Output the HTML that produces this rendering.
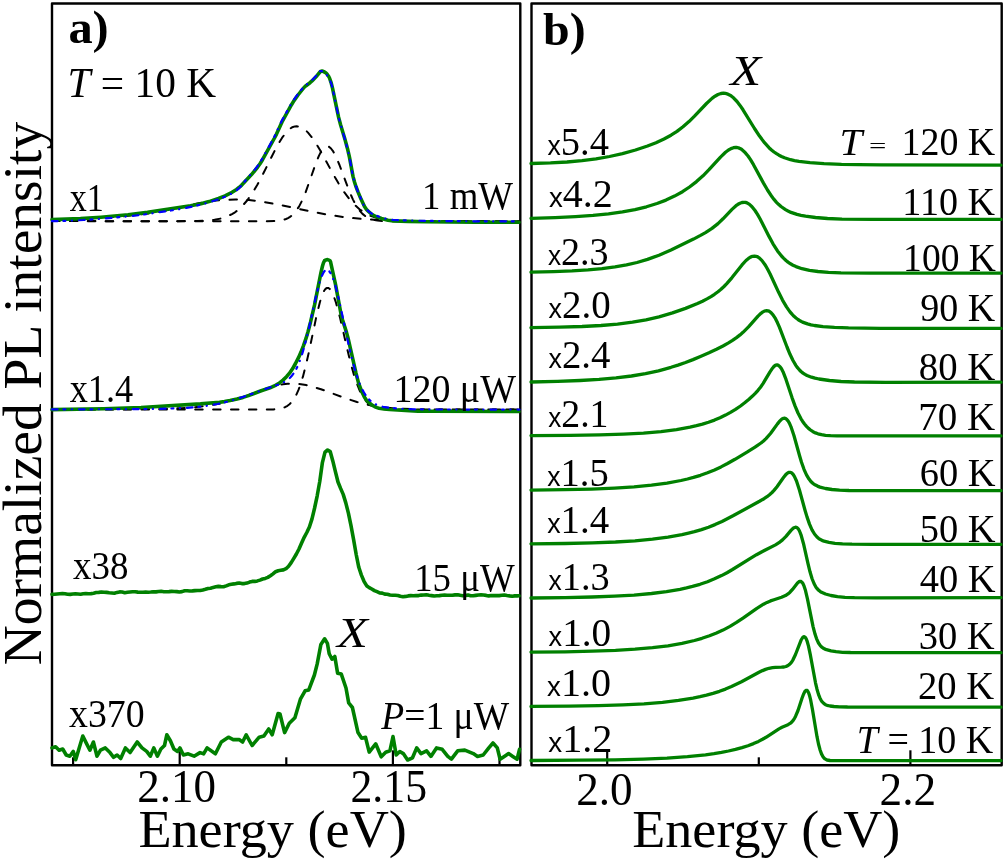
<!DOCTYPE html>
<html><head><meta charset="utf-8"><title>PL spectra</title>
<style>
html,body{margin:0;padding:0;background:#fff;}
body{width:1005px;height:861px;overflow:hidden;}
svg{display:block;}
text{font-family:'Liberation Serif','Times New Roman',serif;fill:#000;}
</style></head><body>
<svg width="1005" height="861" viewBox="0 0 1005 861">
<rect width="1005" height="861" fill="#fff"/>
<rect x="52" y="3.5" width="468.3" height="761.8" fill="none" stroke="#000" stroke-width="2.4" stroke-linejoin="round"/>
<rect x="531.5" y="3.5" width="470.2" height="761.8" fill="none" stroke="#000" stroke-width="2.4" stroke-linejoin="round"/>
<line x1="179.7" y1="765.3" x2="179.7" y2="750.3" stroke="#000" stroke-width="2.2"/>
<line x1="392.9" y1="765.3" x2="392.9" y2="750.3" stroke="#000" stroke-width="2.2"/>
<line x1="73.1" y1="765.3" x2="73.1" y2="757.3" stroke="#000" stroke-width="2.2"/>
<line x1="286.3" y1="765.3" x2="286.3" y2="757.3" stroke="#000" stroke-width="2.2"/>
<line x1="499.5" y1="765.3" x2="499.5" y2="757.3" stroke="#000" stroke-width="2.2"/>
<line x1="607.2" y1="765.3" x2="607.2" y2="750.3" stroke="#000" stroke-width="2.2"/>
<line x1="910.4" y1="765.3" x2="910.4" y2="750.3" stroke="#000" stroke-width="2.2"/>
<line x1="758.8" y1="765.3" x2="758.8" y2="757.3" stroke="#000" stroke-width="2.2"/>
<g fill="none" stroke-linejoin="round" stroke-linecap="round">
<path d="M52.0,219.4 L78.0,218.7 L100.0,217.8 L119.0,216.6 L135.5,215.1 L150.0,213.3 L163.5,211.0 L175.5,208.5 L198.5,203.3 L209.5,201.2 L216.0,200.4 L222.0,199.9 L235.5,199.5 L242.0,199.7 L249.0,200.1 L256.0,200.8 L263.0,201.8 L277.5,204.4 L310.5,211.4 L327.0,214.6 L345.5,217.3 L364.5,219.2 L386.0,220.4 L412.0,221.1 L446.0,221.3 L519.5,221.4" stroke="#000" stroke-width="2.0" stroke-dasharray="7.5 10.4"/>
<path d="M52.0,221.1 L175.0,221.2 L197.5,221.0 L207.0,220.6 L214.5,219.8 L221.0,218.5 L226.5,216.8 L232.0,214.1 L235.0,212.3 L237.5,210.4 L242.5,205.8 L247.5,200.0 L252.5,192.9 L257.5,184.5 L262.5,175.1 L275.5,149.1 L279.0,142.8 L282.0,137.9 L286.0,132.6 L289.5,129.1 L291.5,127.7 L293.0,127.0 L295.0,126.4 L296.5,126.3 L298.0,126.4 L300.0,126.9 L302.0,127.7 L304.0,129.0 L306.0,130.6 L308.0,132.6 L312.5,138.1 L316.0,143.3 L320.0,150.0 L333.0,173.8 L338.5,183.3 L344.0,191.9 L349.5,199.3 L354.5,204.8 L359.5,209.2 L365.0,213.0 L370.5,215.8 L376.5,217.9 L383.0,219.4 L391.0,220.4 L400.5,221.0 L423.5,221.3 L519.5,221.4" stroke="#000" stroke-width="2.0" stroke-dasharray="7.5 10.4"/>
<path d="M52.0,221.1 L265.0,221.2 L276.5,220.9 L280.5,220.4 L283.5,219.8 L286.0,219.0 L288.0,218.1 L290.0,216.9 L292.0,215.4 L295.5,211.7 L299.0,206.6 L302.0,200.8 L305.5,192.6 L315.5,164.3 L319.0,155.6 L321.0,151.7 L323.0,148.7 L325.0,146.9 L326.0,146.4 L327.0,146.3 L328.0,146.4 L329.0,146.8 L331.0,148.5 L333.0,151.1 L335.5,155.6 L339.5,165.0 L349.5,191.7 L353.0,199.6 L356.0,205.3 L359.0,209.9 L362.5,213.9 L366.0,216.7 L370.0,218.8 L373.5,219.9 L377.5,220.6 L382.0,221.0 L388.5,221.2 L519.5,221.4" stroke="#000" stroke-width="2.0" stroke-dasharray="7.5 10.4"/>
<path d="M52.0,409.4 L123.5,409.2 L158.5,408.9 L181.5,408.2 L190.5,407.6 L199.0,406.8 L212.5,404.9 L219.0,403.7 L225.5,402.2 L232.5,400.3 L240.0,398.0 L264.5,389.3 L273.5,386.5 L278.5,385.2 L283.0,384.3 L287.5,383.8 L292.0,383.6 L296.5,383.8 L301.0,384.2 L306.0,385.0 L311.0,386.2 L321.0,389.2 L345.0,398.1 L357.0,402.0 L364.0,403.8 L370.5,405.3 L377.5,406.5 L385.0,407.5 L392.5,408.2 L401.0,408.8 L421.0,409.4 L447.5,409.6 L519.5,409.6" stroke="#000" stroke-width="2.0" stroke-dasharray="7.5 10.4"/>
<path d="M52.0,409.6 L266.5,409.6 L273.5,409.4 L278.0,409.0 L282.0,408.2 L285.0,407.2 L287.5,405.8 L289.5,404.3 L291.5,402.2 L293.0,400.3 L295.0,397.2 L296.5,394.4 L298.5,389.9 L300.0,385.9 L303.0,376.4 L306.0,364.8 L309.0,351.6 L316.5,315.9 L320.0,301.8 L322.0,295.6 L324.0,291.1 L325.0,289.5 L326.0,288.5 L327.0,288.0 L327.5,287.9 L328.5,288.1 L329.5,288.8 L330.5,289.8 L331.5,291.3 L333.5,295.5 L336.0,302.7 L340.0,317.6 L347.5,350.2 L350.5,362.5 L354.0,375.0 L357.0,384.0 L360.0,391.3 L361.5,394.3 L363.5,397.7 L365.0,399.8 L367.0,402.2 L369.0,404.0 L371.0,405.5 L374.5,407.3 L378.5,408.5 L383.0,409.1 L389.5,409.5 L519.5,409.6" stroke="#000" stroke-width="2.0" stroke-dasharray="7.5 10.4"/>
<path d="M52.0,219.6 L80.5,218.6 L101.0,217.2 L128.0,214.8 L147.5,212.4 L190.5,205.7 L201.0,203.8 L209.0,201.6 L218.5,198.5 L225.0,195.9 L230.5,193.2 L236.5,189.4 L239.0,187.5 L241.5,185.3 L251.5,174.6 L257.5,167.3 L260.0,163.8 L262.5,159.7 L274.5,138.0 L276.5,134.1 L282.0,121.9 L291.5,104.7 L294.0,100.6 L298.0,95.0 L304.0,87.5 L306.0,85.7 L310.0,82.7 L312.0,80.9 L317.0,75.7 L320.0,72.0 L321.0,71.2 L322.0,71.0 L323.0,71.3 L324.5,72.0 L326.0,73.0 L327.0,74.0 L328.5,76.2 L329.5,78.0 L331.0,82.3 L332.5,88.1 L338.5,116.9 L340.5,124.5 L345.0,139.6 L347.5,148.7 L349.5,157.4 L353.0,176.4 L354.5,182.0 L356.0,186.7 L358.0,191.9 L361.0,199.1 L364.5,206.6 L366.5,209.5 L368.5,211.5 L371.0,213.7 L373.0,215.0 L375.0,216.1 L381.5,218.5 L388.0,220.2 L393.5,220.9 L408.0,221.4 L426.0,221.8 L475.0,222.2 L519.0,222.3" stroke="#008000" stroke-width="3.6" />
<path d="M52.0,409.6 L103.5,408.7 L141.0,407.5 L200.5,403.9 L219.5,402.3 L224.5,401.6 L230.0,400.6 L237.0,399.0 L243.0,397.4 L248.5,395.6 L260.5,391.0 L270.0,387.8 L276.0,385.1 L279.5,382.9 L283.0,380.1 L286.5,376.7 L289.5,373.2 L292.5,368.8 L295.5,363.5 L298.5,357.7 L301.0,352.1 L303.5,345.6 L306.0,338.4 L308.0,331.7 L310.5,322.2 L314.5,305.2 L321.0,272.4 L322.5,266.0 L323.5,262.8 L324.5,260.7 L326.0,259.9 L327.5,259.6 L329.0,260.1 L330.0,260.8 L330.5,261.6 L335.5,284.3 L341.0,314.0 L342.5,319.8 L346.5,332.4 L348.0,337.9 L356.0,373.2 L358.5,382.9 L361.5,390.9 L364.5,397.3 L366.5,400.3 L370.0,403.5 L372.5,405.4 L374.5,406.5 L377.0,407.6 L379.0,408.2 L384.0,408.9 L389.5,409.5 L409.5,410.8 L418.0,411.2 L431.5,411.3 L519.0,411.5" stroke="#008000" stroke-width="3.6" />
<path d="M52.0,594.4 L54.6,594.3 L57.2,594.0 L59.8,593.7 L62.4,593.5 L65.0,593.7 L67.6,594.2 L70.2,594.4 L72.8,594.0 L75.4,593.8 L78.0,594.0 L80.6,594.2 L83.2,593.7 L85.8,593.5 L88.4,593.7 L91.0,593.6 L93.6,593.2 L96.2,592.5 L98.8,592.4 L101.4,592.0 L104.0,592.3 L106.6,592.4 L109.2,592.8 L111.8,593.0 L114.4,593.2 L117.0,592.4 L119.6,591.9 L122.2,592.0 L124.8,592.7 L127.4,592.3 L130.0,592.0 L132.6,591.7 L135.2,591.8 L137.8,592.1 L140.4,592.3 L143.0,592.2 L145.6,592.1 L148.2,592.2 L150.8,592.0 L153.4,591.7 L156.0,591.9 L158.6,591.5 L161.2,591.3 L163.8,591.7 L166.4,591.7 L169.0,591.6 L171.6,591.4 L174.2,591.5 L176.8,591.6 L179.4,592.0 L182.0,591.6 L184.6,590.8 L187.2,590.8 L189.8,591.0 L192.4,590.9 L195.0,590.6 L197.6,590.5 L200.2,590.5 L202.8,590.0 L205.4,589.3 L208.0,588.5 L210.6,588.2 L213.2,587.4 L215.8,586.8 L218.4,586.4 L221.0,586.6 L223.6,586.7 L226.2,585.9 L228.8,584.8 L231.4,584.3 L234.0,583.9 L236.6,583.4 L239.2,583.0 L241.8,583.6 L244.4,583.6 L247.0,583.1 L249.6,582.1 L252.2,581.4 L254.8,581.4 L257.4,580.9 L260.0,580.1 L262.6,579.0 L265.2,578.4 L267.8,577.4 L270.4,575.8 L273.0,573.9 L275.6,571.7 L278.2,570.7 L280.8,570.3 L283.4,569.9 L286.0,568.7 L288.6,566.2 L291.2,562.6 L293.8,558.4 L296.4,554.0 L299.0,549.0 L301.6,543.1 L304.2,537.3 L306.8,532.5 L309.4,527.0 L312.0,518.9 L314.6,508.0 L317.2,495.8 L319.8,481.3 L322.4,462.6 L325.0,452.1 L327.6,450.0 L330.2,451.6 L332.8,460.9 L335.4,471.6 L338.0,482.0 L340.6,488.4 L343.2,494.4 L345.8,502.9 L348.4,513.1 L351.0,525.7 L353.6,539.6 L356.2,554.5 L358.8,567.3 L361.4,575.1 L364.0,581.3 L366.6,585.7 L369.2,587.6 L371.8,589.0 L374.4,590.6 L377.0,591.7 L379.6,592.9 L382.2,593.1 L384.8,594.1 L387.4,594.2 L390.0,595.0 L392.6,595.3 L395.2,595.3 L397.8,595.5 L400.4,596.3 L403.0,596.8 L405.6,596.4 L408.2,595.9 L410.8,595.6 L413.4,595.8 L416.0,595.6 L418.6,595.6 L421.2,595.1 L423.8,595.0 L426.4,594.7 L429.0,595.2 L431.6,595.6 L434.2,596.0 L436.8,595.8 L439.4,595.6 L442.0,595.2 L444.6,595.1 L447.2,595.2 L449.8,595.3 L452.4,595.3 L455.0,594.9 L457.6,594.7 L460.2,595.3 L462.8,595.7 L465.4,595.5 L468.0,595.1 L470.6,595.8 L473.2,595.8 L475.8,595.4 L478.4,595.0 L481.0,594.9 L483.6,595.0 L486.2,595.4 L488.8,595.9 L491.4,595.5 L494.0,595.6 L496.6,595.5 L499.2,595.6 L501.8,595.3 L504.4,595.0 L507.0,595.5 L509.6,595.9 L512.2,596.2 L514.8,595.9 L517.4,595.9 L519.0,595.8" stroke="#008000" stroke-width="3.6" />
<path d="M52.0,747.9 L55.6,746.7 L59.1,750.2 L62.7,749.0 L66.2,755.0 L69.8,756.2 L73.3,751.4 L75.7,759.7 L79.2,747.9 L82.8,736.0 L86.3,743.1 L89.9,750.2 L93.4,742.0 L97.0,756.2 L100.5,750.2 L105.3,747.9 L110.0,752.6 L113.6,757.3 L117.1,755.0 L120.7,758.5 L125.4,747.9 L130.1,752.6 L137.2,742.0 L142.0,747.9 L146.7,751.4 L150.3,756.2 L153.8,747.9 L157.4,756.2 L160.9,749.0 L164.5,745.5 L166.8,734.8 L170.4,740.8 L173.9,749.0 L177.5,751.4 L179.9,747.9 L183.4,755.0 L188.2,753.8 L194.1,756.2 L200.0,752.6 L203.6,753.8 L207.1,747.9 L215.4,753.8 L221.3,742.0 L228.4,737.2 L233.2,739.6 L239.1,739.6 L242.6,742.0 L246.2,734.8 L252.1,745.5 L259.2,737.2 L263.9,736.0 L268.7,728.9 L272.2,734.8 L278.1,713.5 L280.0,714.0 L284.6,732.6 L289.3,723.3 L294.9,717.7 L300.4,699.2 L305.1,690.8 L308.8,689.9 L314.4,675.0 L317.2,663.9 L320.9,644.4 L324.6,638.8 L327.4,643.4 L329.2,653.7 L332.0,659.2 L334.8,656.4 L337.6,673.2 L341.3,674.1 L346.0,688.0 L348.7,702.9 L352.4,707.5 L358.0,732.6 L361.7,738.2 L365.5,737.3 L369.2,752.1 L375.7,743.8 L381.2,756.8 L385.7,752.2 L389.9,750.8 L393.0,736.6 L396.2,755.0 L399.8,751.5 L403.3,753.6 L407.6,760.0 L412.5,757.8 L416.7,747.9 L421.0,753.6 L426.6,750.8 L430.9,756.4 L436.5,747.9 L442.2,749.3 L447.8,756.4 L451.4,759.2 L457.7,750.8 L464.8,750.1 L473.3,753.6 L477.5,756.4 L483.2,755.0 L488.8,747.9 L493.0,743.0 L497.3,747.9 L500.1,759.2 L504.3,756.4 L508.6,753.6 L512.8,756.4 L517.1,759.2 L519.5,749.3" stroke="#008000" stroke-width="3.6" />
<path d="M52.0,221.2 L66.5,220.8 L84.0,220.0 L101.5,218.8 L116.5,217.5 L141.5,214.9 L175.0,209.9 L183.5,208.5 L191.0,206.9 L200.5,204.7 L209.0,202.4 L215.5,200.3 L221.5,198.2 L226.5,196.0 L231.5,193.5 L236.5,190.3 L240.0,187.2 L247.5,178.1 L255.0,169.4 L259.0,164.1 L262.5,158.2 L274.5,136.5 L280.0,124.4 L282.0,120.4 L291.5,103.3 L295.5,97.3 L301.0,90.1 L303.5,87.2 L305.0,85.8 L310.5,81.6 L316.0,76.0 L319.0,72.2 L320.0,71.3 L321.0,71.0 L322.0,71.2 L323.5,71.9 L325.0,72.9 L326.0,73.8 L327.5,75.9 L329.5,79.3 L331.5,84.1 L332.5,88.0 L339.0,119.0 L345.5,141.3 L348.5,152.8 L350.0,160.0 L352.5,174.1 L354.5,182.0 L357.5,190.7 L363.5,204.7 L365.0,207.5 L366.0,208.9 L369.5,212.1 L371.5,213.4 L374.0,214.7 L381.0,217.4 L387.5,219.2 L393.5,220.0 L408.0,220.5 L426.0,220.9 L475.0,221.3 L519.0,221.4" stroke="#0000ff" stroke-width="2.2" stroke-dasharray="5.6 5.8 2 6.4 0.2 7"/>
<path d="M52.0,409.4 L125.0,409.2 L160.0,408.9 L183.0,408.1 L192.5,407.4 L201.0,406.6 L209.5,405.4 L217.5,404.0 L225.0,402.3 L233.0,400.1 L246.5,395.8 L264.5,389.3 L278.0,384.7 L283.5,382.4 L286.0,381.0 L288.5,379.2 L290.5,377.3 L292.5,375.0 L294.5,372.1 L296.0,369.5 L298.0,365.4 L299.5,361.7 L302.5,353.0 L306.0,340.3 L309.0,327.7 L316.0,296.2 L319.5,282.8 L321.5,276.8 L323.5,272.5 L324.5,271.1 L325.5,270.2 L326.5,269.8 L327.0,269.7 L328.0,270.1 L329.0,270.9 L331.0,273.8 L333.0,278.4 L335.5,286.1 L339.5,302.1 L347.5,339.6 L351.0,354.9 L354.5,368.3 L357.5,377.9 L360.5,385.7 L364.0,392.7 L366.0,395.8 L368.0,398.3 L370.0,400.4 L372.0,402.0 L374.5,403.7 L377.0,404.9 L380.0,406.0 L383.0,406.8 L391.0,408.0 L402.0,408.8 L415.5,409.3 L433.0,409.5 L519.5,409.6" stroke="#0000ff" stroke-width="2.2" stroke-dasharray="5.6 5.8 2 6.4 0.2 7"/>
<path d="M531.0,163.5 L550.5,162.9 L567.0,162.0 L582.0,160.6 L596.0,158.9 L609.5,156.5 L622.5,153.6 L635.5,150.0 L647.5,146.0 L656.0,142.7 L664.0,139.0 L671.0,135.2 L677.0,131.4 L683.0,126.8 L689.0,121.6 L694.5,116.1 L706.5,103.5 L712.0,98.4 L715.0,96.2 L718.0,94.5 L721.0,93.5 L723.5,93.2 L725.5,93.4 L727.0,93.8 L730.0,95.2 L731.5,96.2 L733.5,97.8 L737.0,101.5 L740.0,105.4 L743.0,109.8 L754.5,128.5 L759.5,136.1 L764.5,142.7 L769.0,147.7 L771.5,150.0 L774.0,152.0 L776.5,153.7 L779.0,155.2 L781.5,156.5 L784.5,157.8 L790.5,159.7 L794.5,160.6 L799.0,161.4 L810.0,162.7 L824.0,163.7 L841.5,164.4 L858.5,164.7 L881.0,164.9 L1001.0,165.2" stroke="#008000" stroke-width="3.3" />
<path d="M531.0,218.3 L555.0,217.6 L575.5,216.6 L593.0,215.4 L608.5,213.8 L622.5,211.9 L635.0,209.6 L646.5,206.8 L657.0,203.5 L666.0,200.1 L674.5,196.1 L682.5,191.7 L689.5,187.0 L696.5,181.6 L703.0,175.8 L709.0,169.7 L720.5,157.1 L725.5,152.3 L728.5,150.0 L731.0,148.6 L733.5,147.7 L735.5,147.4 L737.0,147.5 L738.5,147.9 L740.0,148.5 L741.5,149.3 L744.5,151.9 L748.0,156.0 L750.5,159.7 L753.5,164.7 L763.5,183.1 L767.5,190.0 L772.0,196.8 L774.0,199.4 L776.5,202.3 L778.5,204.3 L781.0,206.5 L785.5,209.6 L788.0,211.0 L791.0,212.4 L797.0,214.4 L801.0,215.3 L805.5,216.2 L815.5,217.5 L827.5,218.5 L842.0,219.1 L874.5,219.4 L1001.0,219.4" stroke="#008000" stroke-width="3.3" />
<path d="M531.0,272.1 L553.5,271.6 L572.0,270.9 L588.0,269.9 L602.0,268.6 L615.0,266.9 L626.5,264.9 L637.0,262.5 L647.5,259.4 L659.0,255.2 L671.0,250.0 L693.5,239.1 L700.5,235.4 L705.5,232.6 L712.0,228.4 L718.0,223.6 L723.0,218.8 L732.0,209.4 L736.0,205.7 L738.0,204.3 L740.0,203.2 L742.0,202.5 L744.0,202.3 L745.5,202.4 L747.0,202.9 L749.5,204.4 L752.0,206.7 L755.0,210.5 L757.5,214.4 L760.0,218.8 L769.0,236.4 L773.0,243.8 L777.5,250.9 L781.5,256.0 L783.5,258.1 L786.0,260.5 L788.0,262.1 L790.5,263.8 L793.0,265.2 L796.0,266.6 L802.0,268.7 L809.5,270.4 L818.0,271.5 L828.5,272.3 L841.0,272.8 L870.0,273.1 L1001.0,273.2" stroke="#008000" stroke-width="3.3" />
<path d="M531.0,327.6 L559.5,327.1 L582.0,326.5 L601.0,325.5 L617.5,324.1 L632.5,322.2 L646.0,319.8 L659.0,316.8 L672.5,312.9 L685.5,308.4 L697.5,303.5 L702.5,301.2 L707.0,298.9 L711.0,296.6 L714.5,294.3 L718.0,291.7 L721.0,289.3 L724.0,286.5 L727.0,283.4 L732.0,277.6 L742.0,264.9 L746.0,260.5 L748.5,258.4 L750.5,257.1 L752.5,256.3 L754.5,256.1 L756.0,256.3 L757.0,256.6 L758.0,257.1 L759.5,258.1 L762.0,260.6 L765.0,264.7 L767.5,269.0 L770.0,273.8 L778.5,292.1 L782.5,300.1 L786.5,306.9 L790.0,311.9 L792.0,314.2 L794.0,316.3 L796.0,318.0 L798.0,319.5 L800.0,320.8 L802.5,322.1 L807.5,323.9 L811.0,324.8 L814.5,325.5 L823.0,326.6 L834.5,327.4 L848.5,327.9 L880.5,328.3 L1001.0,328.4" stroke="#008000" stroke-width="3.3" />
<path d="M531.0,382.0 L557.5,381.4 L580.0,380.5 L599.0,379.4 L616.0,377.9 L631.5,376.0 L645.5,373.6 L658.5,370.8 L671.0,367.3 L678.0,365.1 L685.5,362.5 L693.0,359.6 L701.0,356.3 L709.0,352.8 L716.5,349.3 L723.0,346.0 L728.5,342.9 L732.5,340.4 L736.5,337.6 L740.0,334.9 L743.0,332.3 L748.5,326.8 L758.0,316.1 L761.0,313.3 L762.5,312.2 L764.0,311.3 L765.5,310.8 L766.5,310.7 L768.0,310.9 L769.0,311.2 L771.0,312.6 L773.0,314.8 L775.5,318.7 L777.5,322.8 L779.5,327.4 L787.0,347.0 L790.0,354.3 L793.0,360.5 L796.0,365.6 L797.5,367.7 L799.5,370.0 L801.0,371.5 L803.0,373.1 L805.0,374.4 L807.0,375.5 L811.5,377.2 L815.0,378.2 L819.0,379.0 L829.5,380.5 L841.0,381.5 L854.5,382.0 L885.5,382.3 L1001.0,382.2" stroke="#008000" stroke-width="3.3" />
<path d="M531.0,435.6 L570.0,435.3 L599.5,434.9 L623.5,434.1 L643.5,433.1 L661.0,431.6 L676.5,429.6 L690.0,427.2 L696.5,425.7 L702.5,424.1 L708.5,422.2 L714.5,420.1 L720.0,417.8 L725.5,415.1 L730.5,412.4 L735.5,409.4 L740.5,406.0 L745.0,402.5 L749.0,399.2 L752.5,396.1 L755.5,393.1 L758.0,390.3 L760.5,387.2 L763.0,383.6 L770.0,371.9 L772.5,368.2 L774.0,366.4 L775.0,365.6 L776.0,365.1 L777.0,364.9 L778.5,365.4 L780.0,366.7 L781.5,368.8 L783.0,371.7 L786.0,379.4 L792.0,397.6 L795.0,405.9 L798.0,413.0 L801.0,418.8 L802.5,421.2 L804.5,424.0 L806.5,426.4 L808.5,428.4 L810.5,430.0 L813.0,431.7 L815.5,432.9 L818.0,433.8 L821.5,434.7 L825.5,435.3 L830.5,435.7 L837.0,435.8 L1001.0,435.9" stroke="#008000" stroke-width="3.3" />
<path d="M531.0,490.1 L564.5,489.7 L591.5,489.1 L614.5,488.1 L634.0,486.9 L651.5,485.2 L667.0,483.1 L681.0,480.5 L687.5,479.0 L693.5,477.4 L700.5,475.3 L707.5,472.8 L714.5,469.9 L721.0,466.9 L727.5,463.5 L735.0,459.3 L747.0,452.2 L755.0,447.2 L761.0,443.0 L763.5,441.0 L766.0,438.6 L770.5,433.5 L777.5,423.9 L780.0,420.8 L781.5,419.3 L782.5,418.7 L783.5,418.3 L784.5,418.2 L785.5,418.5 L786.5,419.1 L788.0,420.8 L789.5,423.4 L791.0,426.8 L794.0,435.8 L799.5,455.5 L801.5,462.2 L804.0,469.3 L806.5,474.9 L809.0,479.1 L810.5,481.0 L812.0,482.6 L813.5,483.8 L815.5,485.1 L817.5,486.1 L820.0,487.1 L825.5,488.5 L832.0,489.5 L839.5,490.2 L849.0,490.5 L870.5,490.7 L1001.0,490.7" stroke="#008000" stroke-width="3.3" />
<path d="M531.0,543.8 L565.0,543.5 L592.5,542.9 L615.5,542.0 L635.0,540.8 L652.5,539.2 L668.0,537.2 L682.0,534.7 L688.5,533.2 L694.5,531.7 L701.5,529.6 L708.5,527.2 L715.0,524.6 L722.0,521.5 L733.0,515.8 L759.5,501.3 L764.0,498.7 L767.0,496.7 L769.5,494.7 L772.0,492.5 L774.0,490.4 L777.0,486.7 L783.5,477.5 L786.0,474.4 L788.0,472.8 L789.0,472.4 L790.0,472.3 L791.5,472.8 L793.0,474.2 L794.5,476.6 L796.5,481.0 L799.5,490.2 L805.0,510.2 L807.0,516.9 L809.5,524.1 L812.0,529.8 L814.5,534.0 L817.0,537.0 L818.5,538.3 L820.0,539.3 L822.0,540.4 L824.0,541.2 L829.0,542.4 L835.0,543.3 L842.5,543.9 L852.0,544.2 L873.0,544.3 L1001.0,544.4" stroke="#008000" stroke-width="3.3" />
<path d="M531.0,598.0 L565.0,597.6 L592.0,597.0 L614.5,596.2 L634.0,595.1 L651.5,593.5 L666.5,591.7 L680.0,589.3 L686.5,587.9 L692.5,586.4 L700.0,584.3 L707.5,581.7 L714.5,578.8 L721.5,575.6 L727.0,572.7 L732.5,569.5 L750.0,558.6 L756.5,554.7 L762.0,551.7 L775.5,544.9 L779.0,542.7 L782.5,539.9 L786.0,536.4 L791.0,530.4 L792.5,528.8 L794.0,527.7 L795.5,527.2 L796.5,527.3 L797.0,527.6 L798.5,529.2 L799.5,531.0 L801.0,534.8 L803.5,543.7 L808.0,563.6 L810.0,571.8 L812.0,578.5 L814.0,583.5 L816.0,587.2 L817.0,588.5 L818.5,590.1 L820.0,591.3 L821.5,592.3 L825.5,594.0 L831.0,595.5 L837.5,596.6 L845.0,597.3 L854.5,597.6 L876.0,597.8 L1001.0,597.6" stroke="#008000" stroke-width="3.3" />
<path d="M531.0,652.1 L565.0,651.8 L592.5,651.2 L615.5,650.4 L635.0,649.2 L652.5,647.7 L668.0,645.8 L682.0,643.4 L694.5,640.5 L702.0,638.3 L709.5,635.8 L716.5,633.0 L723.0,630.1 L730.0,626.4 L736.5,622.4 L743.0,618.1 L756.5,608.6 L763.5,604.2 L767.0,602.4 L770.5,600.9 L774.0,599.7 L781.5,597.3 L785.5,595.6 L788.0,593.9 L790.0,592.2 L792.5,589.4 L797.5,583.0 L799.0,581.7 L800.0,581.4 L801.0,581.5 L801.5,581.8 L802.5,582.9 L803.0,583.7 L804.0,585.9 L805.5,590.6 L807.5,599.1 L813.0,626.3 L815.0,634.1 L816.5,638.6 L818.5,643.0 L820.5,645.9 L821.5,646.9 L823.0,648.0 L824.5,648.9 L826.5,649.7 L831.0,650.9 L836.0,651.7 L842.5,652.3 L850.5,652.5 L1001.0,652.7" stroke="#008000" stroke-width="3.3" />
<path d="M531.0,706.4 L569.0,706.1 L598.5,705.6 L623.0,704.8 L644.0,703.8 L662.5,702.3 L678.5,700.4 L693.0,698.1 L700.0,696.7 L706.5,695.1 L713.0,693.3 L719.5,691.3 L725.5,689.1 L731.5,686.6 L741.5,681.8 L759.0,672.3 L762.5,670.6 L765.5,669.4 L769.0,668.3 L772.5,667.7 L775.5,667.4 L781.5,667.2 L784.0,667.0 L786.0,666.5 L788.0,665.5 L789.5,664.4 L790.5,663.4 L792.0,661.4 L793.0,659.8 L795.5,654.5 L801.0,640.3 L802.5,637.7 L803.5,636.8 L804.0,636.7 L804.5,636.8 L805.0,637.1 L806.0,638.4 L807.0,640.8 L808.5,646.1 L810.5,655.7 L815.5,682.8 L817.0,689.2 L818.5,694.4 L820.0,698.2 L821.0,700.1 L822.0,701.7 L824.0,703.7 L825.5,704.7 L827.0,705.3 L830.0,706.0 L834.0,706.5 L839.5,706.8 L847.5,707.0 L1001.0,707.2" stroke="#008000" stroke-width="3.3" />
<path d="M531.0,760.5 L579.5,760.2 L615.0,759.8 L643.5,759.1 L667.0,758.2 L687.5,756.7 L705.5,754.9 L714.0,753.7 L721.5,752.4 L728.5,751.0 L735.5,749.4 L742.0,747.6 L748.0,745.7 L753.5,743.6 L758.5,741.4 L762.5,739.3 L766.0,737.3 L779.0,728.9 L782.0,727.3 L788.0,724.7 L790.5,723.2 L792.0,721.8 L793.0,720.6 L794.5,718.3 L795.5,716.4 L798.0,710.5 L802.0,698.3 L803.5,694.2 L805.0,691.3 L806.0,690.4 L806.5,690.3 L807.0,690.4 L807.5,690.8 L808.5,692.5 L809.5,695.4 L810.5,699.3 L812.5,709.7 L817.0,736.7 L818.5,744.0 L820.0,749.7 L821.5,753.9 L823.0,756.7 L824.0,758.0 L825.0,758.9 L827.0,760.0 L830.0,760.5 L835.0,760.7 L1001.0,760.7" stroke="#008000" stroke-width="3.3" />
</g>
<text transform="translate(68.39,42.70) scale(1.023,1)" font-size="47.37" font-weight="bold">a)</text>
<text transform="translate(67.38,97.40) scale(0.961,1)" font-size="43.09" ><tspan font-style="italic">T</tspan> = 10 K</text>
<text transform="translate(69.70,211.40) scale(0.870,1)" font-size="39.15" >x1</text>
<text transform="translate(422.07,209.30) scale(0.940,1)" font-size="39.15" >1 mW</text>
<text transform="translate(69.70,401.80) scale(0.926,1)" font-size="39.15" >x1.4</text>
<text transform="translate(393.48,401.60) scale(0.969,1)" font-size="39.15" >120 μW</text>
<text transform="translate(73.00,578.80) scale(0.944,1)" font-size="39.15" >x38</text>
<text transform="translate(414.17,591.40) scale(0.941,1)" font-size="39.15" >15 μW</text>
<text transform="translate(69.00,727.00) scale(0.965,1)" font-size="39.15" >x370</text>
<text transform="translate(381.30,729.30) scale(0.959,1)" font-size="39.15" ><tspan font-style="italic">P</tspan>=1 μW</text>
<text transform="translate(337.10,646.90) scale(1.206,1)" font-size="41.93" font-style="italic">X</text>
<text transform="translate(137.24,802.00) scale(0.987,1)" font-size="45.63" >2.10</text>
<text transform="translate(350.50,802.00) scale(0.958,1)" font-size="45.63" >2.15</text>
<text transform="translate(138.39,847.10) scale(1.011,1)" font-size="53.64" >Energy (eV)</text>
<text transform="translate(543.06,45.30) scale(1.012,1)" font-size="47.37" font-weight="bold">b)</text>
<text transform="translate(730.20,84.60) scale(1.206,1)" font-size="41.93" font-style="italic">X</text>
<text transform="translate(576.14,805.00) scale(0.989,1)" font-size="45.63" >2.0</text>
<text transform="translate(879.53,805.00) scale(0.993,1)" font-size="45.63" >2.2</text>
<text transform="translate(632.19,847.00) scale(1.010,1)" font-size="53.64" >Energy (eV)</text>
<text transform="translate(839.56,155.00) scale(1.052,1)" font-size="38.85" font-style="italic">T</text>
<text transform="translate(868.90,152.90) scale(1.400,1)" font-size="22.00" >=</text>
<text transform="translate(901.48,155.00) scale(0.969,1)" font-size="39.15" >120 K</text>
<text transform="translate(902.27,214.80) scale(0.973,1)" font-size="39.15" >110 K</text>
<text transform="translate(903.11,271.20) scale(0.959,1)" font-size="39.15" >100 K</text>
<text transform="translate(920.33,321.30) scale(0.970,1)" font-size="39.15" >90 K</text>
<text transform="translate(918.81,379.70) scale(0.990,1)" font-size="39.15" >80 K</text>
<text transform="translate(918.30,430.10) scale(0.996,1)" font-size="39.15" >70 K</text>
<text transform="translate(919.83,485.70) scale(0.982,1)" font-size="39.15" >60 K</text>
<text transform="translate(919.83,541.70) scale(0.982,1)" font-size="39.15" >50 K</text>
<text transform="translate(919.81,591.90) scale(0.982,1)" font-size="39.15" >40 K</text>
<text transform="translate(918.72,648.90) scale(0.984,1)" font-size="39.15" >30 K</text>
<text transform="translate(917.92,699.20) scale(0.987,1)" font-size="39.15" >20 K</text>
<text transform="translate(856.77,752.50) scale(0.971,1)" font-size="39.15" ><tspan font-style="italic">T</tspan> = 10 K</text>
<text transform="translate(547.51,155.30) scale(0.983,1)" font-size="39.15" ><tspan font-family="Liberation Sans" font-size="27">x</tspan>5.4</text>
<text transform="translate(548.97,207.20) scale(1.021,1)" font-size="39.15" ><tspan font-family="Liberation Sans" font-size="27">x</tspan>4.2</text>
<text transform="translate(547.92,265.30) scale(0.973,1)" font-size="39.15" ><tspan font-family="Liberation Sans" font-size="27">x</tspan>2.3</text>
<text transform="translate(548.60,317.60) scale(0.995,1)" font-size="39.15" ><tspan font-family="Liberation Sans" font-size="27">x</tspan>2.0</text>
<text transform="translate(548.60,368.00) scale(0.991,1)" font-size="39.15" ><tspan font-family="Liberation Sans" font-size="27">x</tspan>2.4</text>
<text transform="translate(548.23,426.80) scale(0.966,1)" font-size="39.15" ><tspan font-family="Liberation Sans" font-size="27">x</tspan>2.1</text>
<text transform="translate(547.21,485.90) scale(0.985,1)" font-size="39.15" ><tspan font-family="Liberation Sans" font-size="27">x</tspan>1.5</text>
<text transform="translate(547.20,533.20) scale(0.993,1)" font-size="39.15" ><tspan font-family="Liberation Sans" font-size="27">x</tspan>1.4</text>
<text transform="translate(548.62,589.80) scale(0.978,1)" font-size="39.15" ><tspan font-family="Liberation Sans" font-size="27">x</tspan>1.3</text>
<text transform="translate(548.59,645.60) scale(1.004,1)" font-size="39.15" ><tspan font-family="Liberation Sans" font-size="27">x</tspan>1.0</text>
<text transform="translate(547.07,696.10) scale(1.023,1)" font-size="39.15" ><tspan font-family="Liberation Sans" font-size="27">x</tspan>1.0</text>
<text transform="translate(548.27,752.30) scale(1.028,1)" font-size="39.15" ><tspan font-family="Liberation Sans" font-size="27">x</tspan>1.2</text>
<text transform="translate(40.5,393.5) rotate(-90)" font-size="55.5" text-anchor="middle">Normalized PL intensity</text>
</svg>
</body></html>
